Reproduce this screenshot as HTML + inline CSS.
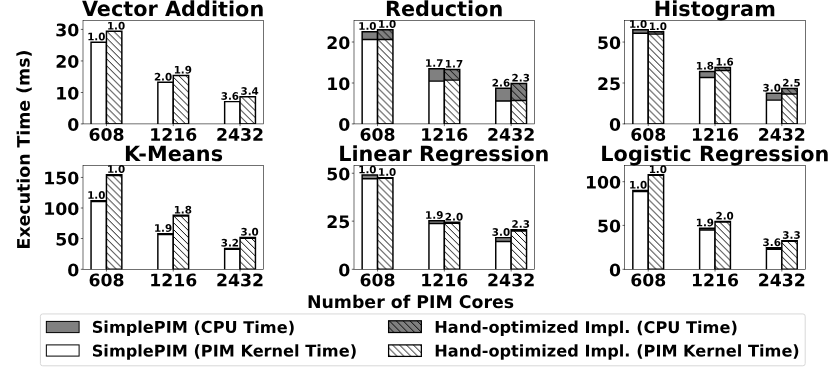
<!DOCTYPE html>
<html><head><meta charset="utf-8"><title>SimplePIM strong scaling</title>
<style>html,body{margin:0;padding:0;background:#fff}svg{display:block}</style></head>
<body>
<svg width="830" height="374" viewBox="0 0 830 374">
<defs>
<pattern id="hw" patternUnits="userSpaceOnUse" width="6.92" height="6.92" x="0" y="0.7"><path d="M-6.92,-6.92 L13.84,13.84 M-6.92,0 L6.92,13.84 M0,-6.92 L13.84,6.92" stroke="#000" stroke-width="0.96" fill="none"/></pattern>
</defs>
<rect width="830" height="374" fill="#fff"/>
<g>
<rect x="91.05" y="42.20" width="15.4" height="81.70" fill="#fff"/>
<path d="M91.05,123.90 L91.05,42.20 L106.45,42.20 L106.45,123.90" fill="none" stroke="#000" stroke-width="1.45" stroke-linejoin="miter"/>
<rect x="106.45" y="31.30" width="15.4" height="92.60" fill="#fff"/>
<rect x="106.45" y="31.30" width="15.4" height="92.60" fill="url(#hw)"/>
<path d="M106.45,123.90 L106.45,31.30 L121.85,31.30 L121.85,123.90" fill="none" stroke="#000" stroke-width="1.45" stroke-linejoin="miter"/>
<line x1="106.45" y1="123.50" x2="121.85" y2="123.50" stroke="#000" stroke-width="0.8"/>
<text x="96.30" y="40.30" transform="rotate(0.03 96.30 40.30)" font-family="DejaVu Sans, Liberation Sans, sans-serif" font-weight="bold" text-rendering="geometricPrecision" font-size="10.35" text-anchor="middle">1.0</text>
<text x="116.05" y="29.40" transform="rotate(0.03 116.05 29.40)" font-family="DejaVu Sans, Liberation Sans, sans-serif" font-weight="bold" text-rendering="geometricPrecision" font-size="10.35" text-anchor="middle">1.0</text>
<line x1="106.45" y1="123.90" x2="106.45" y2="126.10" stroke="#000" stroke-width="0.6"/>
<text x="106.45" y="140.80" transform="rotate(0.03 106.45 140.80)" font-family="DejaVu Sans, Liberation Sans, sans-serif" font-weight="bold" text-rendering="geometricPrecision" font-size="17.3" text-anchor="middle">608</text>
<rect x="157.85" y="82.30" width="15.4" height="41.60" fill="#fff"/>
<path d="M157.85,123.90 L157.85,82.30 L173.25,82.30 L173.25,123.90" fill="none" stroke="#000" stroke-width="1.45" stroke-linejoin="miter"/>
<rect x="173.25" y="75.50" width="15.4" height="48.40" fill="#fff"/>
<rect x="173.25" y="75.50" width="15.4" height="48.40" fill="url(#hw)"/>
<path d="M173.25,123.90 L173.25,75.50 L188.65,75.50 L188.65,123.90" fill="none" stroke="#000" stroke-width="1.45" stroke-linejoin="miter"/>
<line x1="173.25" y1="123.50" x2="188.65" y2="123.50" stroke="#000" stroke-width="0.8"/>
<text x="163.10" y="80.40" transform="rotate(0.03 163.10 80.40)" font-family="DejaVu Sans, Liberation Sans, sans-serif" font-weight="bold" text-rendering="geometricPrecision" font-size="10.35" text-anchor="middle">2.0</text>
<text x="182.85" y="73.60" transform="rotate(0.03 182.85 73.60)" font-family="DejaVu Sans, Liberation Sans, sans-serif" font-weight="bold" text-rendering="geometricPrecision" font-size="10.35" text-anchor="middle">1.9</text>
<line x1="173.25" y1="123.90" x2="173.25" y2="126.10" stroke="#000" stroke-width="0.6"/>
<text x="173.25" y="140.80" transform="rotate(0.03 173.25 140.80)" font-family="DejaVu Sans, Liberation Sans, sans-serif" font-weight="bold" text-rendering="geometricPrecision" font-size="17.3" text-anchor="middle">1216</text>
<rect x="224.65" y="101.60" width="15.4" height="22.30" fill="#fff"/>
<path d="M224.65,123.90 L224.65,101.60 L240.05,101.60 L240.05,123.90" fill="none" stroke="#000" stroke-width="1.45" stroke-linejoin="miter"/>
<rect x="240.05" y="96.70" width="15.4" height="27.20" fill="#fff"/>
<rect x="240.05" y="96.70" width="15.4" height="27.20" fill="url(#hw)"/>
<path d="M240.05,123.90 L240.05,96.70 L255.45,96.70 L255.45,123.90" fill="none" stroke="#000" stroke-width="1.45" stroke-linejoin="miter"/>
<line x1="240.05" y1="123.50" x2="255.45" y2="123.50" stroke="#000" stroke-width="0.8"/>
<text x="229.90" y="99.70" transform="rotate(0.03 229.90 99.70)" font-family="DejaVu Sans, Liberation Sans, sans-serif" font-weight="bold" text-rendering="geometricPrecision" font-size="10.35" text-anchor="middle">3.6</text>
<text x="249.65" y="94.80" transform="rotate(0.03 249.65 94.80)" font-family="DejaVu Sans, Liberation Sans, sans-serif" font-weight="bold" text-rendering="geometricPrecision" font-size="10.35" text-anchor="middle">3.4</text>
<line x1="240.05" y1="123.90" x2="240.05" y2="126.10" stroke="#000" stroke-width="0.6"/>
<text x="240.05" y="140.80" transform="rotate(0.03 240.05 140.80)" font-family="DejaVu Sans, Liberation Sans, sans-serif" font-weight="bold" text-rendering="geometricPrecision" font-size="17.3" text-anchor="middle">2432</text>
<rect x="83.00" y="20.50" width="180.50" height="103.40" fill="none" stroke="#000" stroke-width="0.56"/>
<line x1="80.80" y1="123.90" x2="83.00" y2="123.90" stroke="#000" stroke-width="0.6"/>
<text x="79.30" y="130.80" transform="rotate(0.03 79.30 130.80)" font-family="DejaVu Sans, Liberation Sans, sans-serif" font-weight="bold" text-rendering="geometricPrecision" font-size="17.3" text-anchor="end">0</text>
<line x1="80.80" y1="92.50" x2="83.00" y2="92.50" stroke="#000" stroke-width="0.6"/>
<text x="79.30" y="99.40" transform="rotate(0.03 79.30 99.40)" font-family="DejaVu Sans, Liberation Sans, sans-serif" font-weight="bold" text-rendering="geometricPrecision" font-size="17.3" text-anchor="end">10</text>
<line x1="80.80" y1="60.95" x2="83.00" y2="60.95" stroke="#000" stroke-width="0.6"/>
<text x="79.30" y="67.85" transform="rotate(0.03 79.30 67.85)" font-family="DejaVu Sans, Liberation Sans, sans-serif" font-weight="bold" text-rendering="geometricPrecision" font-size="17.3" text-anchor="end">20</text>
<line x1="80.80" y1="29.40" x2="83.00" y2="29.40" stroke="#000" stroke-width="0.6"/>
<text x="79.30" y="36.30" transform="rotate(0.03 79.30 36.30)" font-family="DejaVu Sans, Liberation Sans, sans-serif" font-weight="bold" text-rendering="geometricPrecision" font-size="17.3" text-anchor="end">30</text>
<text x="173.05" y="16.10" transform="rotate(0.03 173.05 16.10)" font-family="DejaVu Sans, Liberation Sans, sans-serif" font-weight="bold" text-rendering="geometricPrecision" font-size="20.8" text-anchor="middle">Vector Addition</text>
</g>
<g>
<rect x="362.15" y="39.40" width="15.4" height="84.50" fill="#fff"/>
<rect x="362.15" y="31.65" width="15.4" height="7.75" fill="#808080"/>
<path d="M362.15,123.90 L362.15,31.65 L377.55,31.65 L377.55,123.90 M362.15,39.40 L377.55,39.40" fill="none" stroke="#000" stroke-width="1.45" stroke-linejoin="miter"/>
<rect x="377.55" y="39.40" width="15.4" height="84.50" fill="#fff"/>
<rect x="377.55" y="29.65" width="15.4" height="9.75" fill="#808080"/>
<rect x="377.55" y="29.65" width="15.4" height="94.25" fill="url(#hw)"/>
<path d="M377.55,123.90 L377.55,29.65 L392.95,29.65 L392.95,123.90 M377.55,39.40 L392.95,39.40" fill="none" stroke="#000" stroke-width="1.45" stroke-linejoin="miter"/>
<line x1="377.55" y1="123.50" x2="392.95" y2="123.50" stroke="#000" stroke-width="0.8"/>
<text x="367.40" y="29.75" transform="rotate(0.03 367.40 29.75)" font-family="DejaVu Sans, Liberation Sans, sans-serif" font-weight="bold" text-rendering="geometricPrecision" font-size="10.35" text-anchor="middle">1.0</text>
<text x="387.15" y="27.75" transform="rotate(0.03 387.15 27.75)" font-family="DejaVu Sans, Liberation Sans, sans-serif" font-weight="bold" text-rendering="geometricPrecision" font-size="10.35" text-anchor="middle">1.0</text>
<line x1="377.55" y1="123.90" x2="377.55" y2="126.10" stroke="#000" stroke-width="0.6"/>
<text x="377.55" y="140.80" transform="rotate(0.03 377.55 140.80)" font-family="DejaVu Sans, Liberation Sans, sans-serif" font-weight="bold" text-rendering="geometricPrecision" font-size="17.3" text-anchor="middle">608</text>
<rect x="428.95" y="81.10" width="15.4" height="42.80" fill="#fff"/>
<rect x="428.95" y="68.70" width="15.4" height="12.40" fill="#808080"/>
<path d="M428.95,123.90 L428.95,68.70 L444.35,68.70 L444.35,123.90 M428.95,81.10 L444.35,81.10" fill="none" stroke="#000" stroke-width="1.45" stroke-linejoin="miter"/>
<rect x="444.35" y="80.10" width="15.4" height="43.80" fill="#fff"/>
<rect x="444.35" y="69.50" width="15.4" height="10.60" fill="#808080"/>
<rect x="444.35" y="69.50" width="15.4" height="54.40" fill="url(#hw)"/>
<path d="M444.35,123.90 L444.35,69.50 L459.75,69.50 L459.75,123.90 M444.35,80.10 L459.75,80.10" fill="none" stroke="#000" stroke-width="1.45" stroke-linejoin="miter"/>
<line x1="444.35" y1="123.50" x2="459.75" y2="123.50" stroke="#000" stroke-width="0.8"/>
<text x="434.20" y="66.80" transform="rotate(0.03 434.20 66.80)" font-family="DejaVu Sans, Liberation Sans, sans-serif" font-weight="bold" text-rendering="geometricPrecision" font-size="10.35" text-anchor="middle">1.7</text>
<text x="453.95" y="67.60" transform="rotate(0.03 453.95 67.60)" font-family="DejaVu Sans, Liberation Sans, sans-serif" font-weight="bold" text-rendering="geometricPrecision" font-size="10.35" text-anchor="middle">1.7</text>
<line x1="444.35" y1="123.90" x2="444.35" y2="126.10" stroke="#000" stroke-width="0.6"/>
<text x="444.35" y="140.80" transform="rotate(0.03 444.35 140.80)" font-family="DejaVu Sans, Liberation Sans, sans-serif" font-weight="bold" text-rendering="geometricPrecision" font-size="17.3" text-anchor="middle">1216</text>
<rect x="495.75" y="101.00" width="15.4" height="22.90" fill="#fff"/>
<rect x="495.75" y="88.30" width="15.4" height="12.70" fill="#808080"/>
<path d="M495.75,123.90 L495.75,88.30 L511.15,88.30 L511.15,123.90 M495.75,101.00 L511.15,101.00" fill="none" stroke="#000" stroke-width="1.45" stroke-linejoin="miter"/>
<rect x="511.15" y="100.40" width="15.4" height="23.50" fill="#fff"/>
<rect x="511.15" y="83.50" width="15.4" height="16.90" fill="#808080"/>
<rect x="511.15" y="83.50" width="15.4" height="40.40" fill="url(#hw)"/>
<path d="M511.15,123.90 L511.15,83.50 L526.55,83.50 L526.55,123.90 M511.15,100.40 L526.55,100.40" fill="none" stroke="#000" stroke-width="1.45" stroke-linejoin="miter"/>
<line x1="511.15" y1="123.50" x2="526.55" y2="123.50" stroke="#000" stroke-width="0.8"/>
<text x="501.00" y="86.40" transform="rotate(0.03 501.00 86.40)" font-family="DejaVu Sans, Liberation Sans, sans-serif" font-weight="bold" text-rendering="geometricPrecision" font-size="10.35" text-anchor="middle">2.6</text>
<text x="520.75" y="81.60" transform="rotate(0.03 520.75 81.60)" font-family="DejaVu Sans, Liberation Sans, sans-serif" font-weight="bold" text-rendering="geometricPrecision" font-size="10.35" text-anchor="middle">2.3</text>
<line x1="511.15" y1="123.90" x2="511.15" y2="126.10" stroke="#000" stroke-width="0.6"/>
<text x="511.15" y="140.80" transform="rotate(0.03 511.15 140.80)" font-family="DejaVu Sans, Liberation Sans, sans-serif" font-weight="bold" text-rendering="geometricPrecision" font-size="17.3" text-anchor="middle">2432</text>
<rect x="354.00" y="20.50" width="180.70" height="103.40" fill="none" stroke="#000" stroke-width="0.56"/>
<line x1="351.80" y1="123.90" x2="354.00" y2="123.90" stroke="#000" stroke-width="0.6"/>
<text x="350.30" y="130.80" transform="rotate(0.03 350.30 130.80)" font-family="DejaVu Sans, Liberation Sans, sans-serif" font-weight="bold" text-rendering="geometricPrecision" font-size="17.3" text-anchor="end">0</text>
<line x1="351.80" y1="83.00" x2="354.00" y2="83.00" stroke="#000" stroke-width="0.6"/>
<text x="350.30" y="89.90" transform="rotate(0.03 350.30 89.90)" font-family="DejaVu Sans, Liberation Sans, sans-serif" font-weight="bold" text-rendering="geometricPrecision" font-size="17.3" text-anchor="end">10</text>
<line x1="351.80" y1="42.00" x2="354.00" y2="42.00" stroke="#000" stroke-width="0.6"/>
<text x="350.30" y="48.90" transform="rotate(0.03 350.30 48.90)" font-family="DejaVu Sans, Liberation Sans, sans-serif" font-weight="bold" text-rendering="geometricPrecision" font-size="17.3" text-anchor="end">20</text>
<text x="444.15" y="16.10" transform="rotate(0.03 444.15 16.10)" font-family="DejaVu Sans, Liberation Sans, sans-serif" font-weight="bold" text-rendering="geometricPrecision" font-size="20.8" text-anchor="middle">Reduction</text>
</g>
<g>
<rect x="632.83" y="33.30" width="15.4" height="90.60" fill="#fff"/>
<rect x="632.83" y="29.70" width="15.4" height="3.60" fill="#808080"/>
<path d="M632.83,123.90 L632.83,29.70 L648.23,29.70 L648.23,123.90 M632.83,33.30 L648.23,33.30" fill="none" stroke="#000" stroke-width="1.45" stroke-linejoin="miter"/>
<rect x="648.23" y="34.10" width="15.4" height="89.80" fill="#fff"/>
<rect x="648.23" y="31.80" width="15.4" height="2.30" fill="#808080"/>
<rect x="648.23" y="31.80" width="15.4" height="92.10" fill="url(#hw)"/>
<path d="M648.23,123.90 L648.23,31.80 L663.63,31.80 L663.63,123.90 M648.23,34.10 L663.63,34.10" fill="none" stroke="#000" stroke-width="1.45" stroke-linejoin="miter"/>
<line x1="648.23" y1="123.50" x2="663.63" y2="123.50" stroke="#000" stroke-width="0.8"/>
<text x="638.08" y="27.80" transform="rotate(0.03 638.08 27.80)" font-family="DejaVu Sans, Liberation Sans, sans-serif" font-weight="bold" text-rendering="geometricPrecision" font-size="10.35" text-anchor="middle">1.0</text>
<text x="657.83" y="29.90" transform="rotate(0.03 657.83 29.90)" font-family="DejaVu Sans, Liberation Sans, sans-serif" font-weight="bold" text-rendering="geometricPrecision" font-size="10.35" text-anchor="middle">1.0</text>
<line x1="648.23" y1="123.90" x2="648.23" y2="126.10" stroke="#000" stroke-width="0.6"/>
<text x="648.23" y="140.80" transform="rotate(0.03 648.23 140.80)" font-family="DejaVu Sans, Liberation Sans, sans-serif" font-weight="bold" text-rendering="geometricPrecision" font-size="17.3" text-anchor="middle">608</text>
<rect x="699.63" y="77.50" width="15.4" height="46.40" fill="#fff"/>
<rect x="699.63" y="71.45" width="15.4" height="6.05" fill="#808080"/>
<path d="M699.63,123.90 L699.63,71.45 L715.03,71.45 L715.03,123.90 M699.63,77.50 L715.03,77.50" fill="none" stroke="#000" stroke-width="1.45" stroke-linejoin="miter"/>
<rect x="715.03" y="70.50" width="15.4" height="53.40" fill="#fff"/>
<rect x="715.03" y="67.50" width="15.4" height="3.00" fill="#808080"/>
<rect x="715.03" y="67.50" width="15.4" height="56.40" fill="url(#hw)"/>
<path d="M715.03,123.90 L715.03,67.50 L730.43,67.50 L730.43,123.90 M715.03,70.50 L730.43,70.50" fill="none" stroke="#000" stroke-width="1.45" stroke-linejoin="miter"/>
<line x1="715.03" y1="123.50" x2="730.43" y2="123.50" stroke="#000" stroke-width="0.8"/>
<text x="704.88" y="69.55" transform="rotate(0.03 704.88 69.55)" font-family="DejaVu Sans, Liberation Sans, sans-serif" font-weight="bold" text-rendering="geometricPrecision" font-size="10.35" text-anchor="middle">1.8</text>
<text x="724.63" y="65.60" transform="rotate(0.03 724.63 65.60)" font-family="DejaVu Sans, Liberation Sans, sans-serif" font-weight="bold" text-rendering="geometricPrecision" font-size="10.35" text-anchor="middle">1.6</text>
<line x1="715.03" y1="123.90" x2="715.03" y2="126.10" stroke="#000" stroke-width="0.6"/>
<text x="715.03" y="140.80" transform="rotate(0.03 715.03 140.80)" font-family="DejaVu Sans, Liberation Sans, sans-serif" font-weight="bold" text-rendering="geometricPrecision" font-size="17.3" text-anchor="middle">1216</text>
<rect x="766.43" y="100.10" width="15.4" height="23.80" fill="#fff"/>
<rect x="766.43" y="93.30" width="15.4" height="6.80" fill="#808080"/>
<path d="M766.43,123.90 L766.43,93.30 L781.83,93.30 L781.83,123.90 M766.43,100.10 L781.83,100.10" fill="none" stroke="#000" stroke-width="1.45" stroke-linejoin="miter"/>
<rect x="781.83" y="94.00" width="15.4" height="29.90" fill="#fff"/>
<rect x="781.83" y="88.50" width="15.4" height="5.50" fill="#808080"/>
<rect x="781.83" y="88.50" width="15.4" height="35.40" fill="url(#hw)"/>
<path d="M781.83,123.90 L781.83,88.50 L797.23,88.50 L797.23,123.90 M781.83,94.00 L797.23,94.00" fill="none" stroke="#000" stroke-width="1.45" stroke-linejoin="miter"/>
<line x1="781.83" y1="123.50" x2="797.23" y2="123.50" stroke="#000" stroke-width="0.8"/>
<text x="771.68" y="91.40" transform="rotate(0.03 771.68 91.40)" font-family="DejaVu Sans, Liberation Sans, sans-serif" font-weight="bold" text-rendering="geometricPrecision" font-size="10.35" text-anchor="middle">3.0</text>
<text x="791.43" y="86.60" transform="rotate(0.03 791.43 86.60)" font-family="DejaVu Sans, Liberation Sans, sans-serif" font-weight="bold" text-rendering="geometricPrecision" font-size="10.35" text-anchor="middle">2.5</text>
<line x1="781.83" y1="123.90" x2="781.83" y2="126.10" stroke="#000" stroke-width="0.6"/>
<text x="781.83" y="140.80" transform="rotate(0.03 781.83 140.80)" font-family="DejaVu Sans, Liberation Sans, sans-serif" font-weight="bold" text-rendering="geometricPrecision" font-size="17.3" text-anchor="middle">2432</text>
<rect x="624.70" y="20.50" width="180.65" height="103.40" fill="none" stroke="#000" stroke-width="0.56"/>
<line x1="622.50" y1="123.90" x2="624.70" y2="123.90" stroke="#000" stroke-width="0.6"/>
<text x="621.00" y="130.80" transform="rotate(0.03 621.00 130.80)" font-family="DejaVu Sans, Liberation Sans, sans-serif" font-weight="bold" text-rendering="geometricPrecision" font-size="17.3" text-anchor="end">0</text>
<line x1="622.50" y1="83.00" x2="624.70" y2="83.00" stroke="#000" stroke-width="0.6"/>
<text x="621.00" y="89.90" transform="rotate(0.03 621.00 89.90)" font-family="DejaVu Sans, Liberation Sans, sans-serif" font-weight="bold" text-rendering="geometricPrecision" font-size="17.3" text-anchor="end">25</text>
<line x1="622.50" y1="42.05" x2="624.70" y2="42.05" stroke="#000" stroke-width="0.6"/>
<text x="621.00" y="48.95" transform="rotate(0.03 621.00 48.95)" font-family="DejaVu Sans, Liberation Sans, sans-serif" font-weight="bold" text-rendering="geometricPrecision" font-size="17.3" text-anchor="end">50</text>
<text x="714.83" y="16.10" transform="rotate(0.03 714.83 16.10)" font-family="DejaVu Sans, Liberation Sans, sans-serif" font-weight="bold" text-rendering="geometricPrecision" font-size="20.8" text-anchor="middle">Histogram</text>
</g>
<g>
<rect x="91.05" y="201.50" width="15.4" height="67.80" fill="#fff"/>
<rect x="91.05" y="200.60" width="15.4" height="0.90" fill="#808080"/>
<path d="M91.05,269.30 L91.05,200.60 L106.45,200.60 L106.45,269.30 M91.05,201.50 L106.45,201.50" fill="none" stroke="#000" stroke-width="1.45" stroke-linejoin="miter"/>
<rect x="106.45" y="175.40" width="15.4" height="93.90" fill="#fff"/>
<rect x="106.45" y="174.70" width="15.4" height="0.70" fill="#808080"/>
<rect x="106.45" y="174.70" width="15.4" height="94.60" fill="url(#hw)"/>
<path d="M106.45,269.30 L106.45,174.70 L121.85,174.70 L121.85,269.30 M106.45,175.40 L121.85,175.40" fill="none" stroke="#000" stroke-width="1.45" stroke-linejoin="miter"/>
<line x1="106.45" y1="268.90" x2="121.85" y2="268.90" stroke="#000" stroke-width="0.8"/>
<text x="96.30" y="198.70" transform="rotate(0.03 96.30 198.70)" font-family="DejaVu Sans, Liberation Sans, sans-serif" font-weight="bold" text-rendering="geometricPrecision" font-size="10.35" text-anchor="middle">1.0</text>
<text x="116.05" y="172.80" transform="rotate(0.03 116.05 172.80)" font-family="DejaVu Sans, Liberation Sans, sans-serif" font-weight="bold" text-rendering="geometricPrecision" font-size="10.35" text-anchor="middle">1.0</text>
<line x1="106.45" y1="269.30" x2="106.45" y2="271.50" stroke="#000" stroke-width="0.6"/>
<text x="106.45" y="286.20" transform="rotate(0.03 106.45 286.20)" font-family="DejaVu Sans, Liberation Sans, sans-serif" font-weight="bold" text-rendering="geometricPrecision" font-size="17.3" text-anchor="middle">608</text>
<rect x="157.85" y="234.50" width="15.4" height="34.80" fill="#fff"/>
<rect x="157.85" y="233.60" width="15.4" height="0.90" fill="#808080"/>
<path d="M157.85,269.30 L157.85,233.60 L173.25,233.60 L173.25,269.30 M157.85,234.50 L173.25,234.50" fill="none" stroke="#000" stroke-width="1.45" stroke-linejoin="miter"/>
<rect x="173.25" y="216.00" width="15.4" height="53.30" fill="#fff"/>
<rect x="173.25" y="215.30" width="15.4" height="0.70" fill="#808080"/>
<rect x="173.25" y="215.30" width="15.4" height="54.00" fill="url(#hw)"/>
<path d="M173.25,269.30 L173.25,215.30 L188.65,215.30 L188.65,269.30 M173.25,216.00 L188.65,216.00" fill="none" stroke="#000" stroke-width="1.45" stroke-linejoin="miter"/>
<line x1="173.25" y1="268.90" x2="188.65" y2="268.90" stroke="#000" stroke-width="0.8"/>
<text x="163.10" y="231.70" transform="rotate(0.03 163.10 231.70)" font-family="DejaVu Sans, Liberation Sans, sans-serif" font-weight="bold" text-rendering="geometricPrecision" font-size="10.35" text-anchor="middle">1.9</text>
<text x="182.85" y="213.40" transform="rotate(0.03 182.85 213.40)" font-family="DejaVu Sans, Liberation Sans, sans-serif" font-weight="bold" text-rendering="geometricPrecision" font-size="10.35" text-anchor="middle">1.8</text>
<line x1="173.25" y1="269.30" x2="173.25" y2="271.50" stroke="#000" stroke-width="0.6"/>
<text x="173.25" y="286.20" transform="rotate(0.03 173.25 286.20)" font-family="DejaVu Sans, Liberation Sans, sans-serif" font-weight="bold" text-rendering="geometricPrecision" font-size="17.3" text-anchor="middle">1216</text>
<rect x="224.65" y="249.30" width="15.4" height="20.00" fill="#fff"/>
<rect x="224.65" y="248.40" width="15.4" height="0.90" fill="#808080"/>
<path d="M224.65,269.30 L224.65,248.40 L240.05,248.40 L240.05,269.30 M224.65,249.30 L240.05,249.30" fill="none" stroke="#000" stroke-width="1.45" stroke-linejoin="miter"/>
<rect x="240.05" y="238.20" width="15.4" height="31.10" fill="#fff"/>
<rect x="240.05" y="237.50" width="15.4" height="0.70" fill="#808080"/>
<rect x="240.05" y="237.50" width="15.4" height="31.80" fill="url(#hw)"/>
<path d="M240.05,269.30 L240.05,237.50 L255.45,237.50 L255.45,269.30 M240.05,238.20 L255.45,238.20" fill="none" stroke="#000" stroke-width="1.45" stroke-linejoin="miter"/>
<line x1="240.05" y1="268.90" x2="255.45" y2="268.90" stroke="#000" stroke-width="0.8"/>
<text x="229.90" y="246.50" transform="rotate(0.03 229.90 246.50)" font-family="DejaVu Sans, Liberation Sans, sans-serif" font-weight="bold" text-rendering="geometricPrecision" font-size="10.35" text-anchor="middle">3.2</text>
<text x="249.65" y="235.60" transform="rotate(0.03 249.65 235.60)" font-family="DejaVu Sans, Liberation Sans, sans-serif" font-weight="bold" text-rendering="geometricPrecision" font-size="10.35" text-anchor="middle">3.0</text>
<line x1="240.05" y1="269.30" x2="240.05" y2="271.50" stroke="#000" stroke-width="0.6"/>
<text x="240.05" y="286.20" transform="rotate(0.03 240.05 286.20)" font-family="DejaVu Sans, Liberation Sans, sans-serif" font-weight="bold" text-rendering="geometricPrecision" font-size="17.3" text-anchor="middle">2432</text>
<rect x="83.00" y="165.50" width="180.50" height="103.80" fill="none" stroke="#000" stroke-width="0.56"/>
<line x1="80.80" y1="269.30" x2="83.00" y2="269.30" stroke="#000" stroke-width="0.6"/>
<text x="79.30" y="276.20" transform="rotate(0.03 79.30 276.20)" font-family="DejaVu Sans, Liberation Sans, sans-serif" font-weight="bold" text-rendering="geometricPrecision" font-size="17.3" text-anchor="end">0</text>
<line x1="80.80" y1="238.50" x2="83.00" y2="238.50" stroke="#000" stroke-width="0.6"/>
<text x="79.30" y="245.40" transform="rotate(0.03 79.30 245.40)" font-family="DejaVu Sans, Liberation Sans, sans-serif" font-weight="bold" text-rendering="geometricPrecision" font-size="17.3" text-anchor="end">50</text>
<line x1="80.80" y1="208.00" x2="83.00" y2="208.00" stroke="#000" stroke-width="0.6"/>
<text x="79.30" y="214.90" transform="rotate(0.03 79.30 214.90)" font-family="DejaVu Sans, Liberation Sans, sans-serif" font-weight="bold" text-rendering="geometricPrecision" font-size="17.3" text-anchor="end">100</text>
<line x1="80.80" y1="177.45" x2="83.00" y2="177.45" stroke="#000" stroke-width="0.6"/>
<text x="79.30" y="184.35" transform="rotate(0.03 79.30 184.35)" font-family="DejaVu Sans, Liberation Sans, sans-serif" font-weight="bold" text-rendering="geometricPrecision" font-size="17.3" text-anchor="end">150</text>
<text x="173.55" y="161.10" transform="rotate(0.03 173.55 161.10)" font-family="DejaVu Sans, Liberation Sans, sans-serif" font-weight="bold" text-rendering="geometricPrecision" font-size="20.8" text-anchor="middle">K-Means</text>
</g>
<g>
<rect x="362.15" y="178.65" width="15.4" height="90.65" fill="#fff"/>
<rect x="362.15" y="175.05" width="15.4" height="3.60" fill="#808080"/>
<path d="M362.15,269.30 L362.15,175.05 L377.55,175.05 L377.55,269.30 M362.15,178.65 L377.55,178.65" fill="none" stroke="#000" stroke-width="1.45" stroke-linejoin="miter"/>
<rect x="377.55" y="178.20" width="15.4" height="91.10" fill="#fff"/>
<rect x="377.55" y="177.60" width="15.4" height="0.60" fill="#808080"/>
<rect x="377.55" y="177.60" width="15.4" height="91.70" fill="url(#hw)"/>
<path d="M377.55,269.30 L377.55,177.60 L392.95,177.60 L392.95,269.30 M377.55,178.20 L392.95,178.20" fill="none" stroke="#000" stroke-width="1.45" stroke-linejoin="miter"/>
<line x1="377.55" y1="268.90" x2="392.95" y2="268.90" stroke="#000" stroke-width="0.8"/>
<text x="367.40" y="173.15" transform="rotate(0.03 367.40 173.15)" font-family="DejaVu Sans, Liberation Sans, sans-serif" font-weight="bold" text-rendering="geometricPrecision" font-size="10.35" text-anchor="middle">1.0</text>
<text x="387.15" y="175.70" transform="rotate(0.03 387.15 175.70)" font-family="DejaVu Sans, Liberation Sans, sans-serif" font-weight="bold" text-rendering="geometricPrecision" font-size="10.35" text-anchor="middle">1.0</text>
<line x1="377.55" y1="269.30" x2="377.55" y2="271.50" stroke="#000" stroke-width="0.6"/>
<text x="377.55" y="286.20" transform="rotate(0.03 377.55 286.20)" font-family="DejaVu Sans, Liberation Sans, sans-serif" font-weight="bold" text-rendering="geometricPrecision" font-size="17.3" text-anchor="middle">608</text>
<rect x="428.95" y="223.50" width="15.4" height="45.80" fill="#fff"/>
<rect x="428.95" y="220.70" width="15.4" height="2.80" fill="#808080"/>
<path d="M428.95,269.30 L428.95,220.70 L444.35,220.70 L444.35,269.30 M428.95,223.50 L444.35,223.50" fill="none" stroke="#000" stroke-width="1.45" stroke-linejoin="miter"/>
<rect x="444.35" y="223.20" width="15.4" height="46.10" fill="#fff"/>
<rect x="444.35" y="222.30" width="15.4" height="0.90" fill="#808080"/>
<rect x="444.35" y="222.30" width="15.4" height="47.00" fill="url(#hw)"/>
<path d="M444.35,269.30 L444.35,222.30 L459.75,222.30 L459.75,269.30 M444.35,223.20 L459.75,223.20" fill="none" stroke="#000" stroke-width="1.45" stroke-linejoin="miter"/>
<line x1="444.35" y1="268.90" x2="459.75" y2="268.90" stroke="#000" stroke-width="0.8"/>
<text x="434.20" y="218.80" transform="rotate(0.03 434.20 218.80)" font-family="DejaVu Sans, Liberation Sans, sans-serif" font-weight="bold" text-rendering="geometricPrecision" font-size="10.35" text-anchor="middle">1.9</text>
<text x="453.95" y="220.40" transform="rotate(0.03 453.95 220.40)" font-family="DejaVu Sans, Liberation Sans, sans-serif" font-weight="bold" text-rendering="geometricPrecision" font-size="10.35" text-anchor="middle">2.0</text>
<line x1="444.35" y1="269.30" x2="444.35" y2="271.50" stroke="#000" stroke-width="0.6"/>
<text x="444.35" y="286.20" transform="rotate(0.03 444.35 286.20)" font-family="DejaVu Sans, Liberation Sans, sans-serif" font-weight="bold" text-rendering="geometricPrecision" font-size="17.3" text-anchor="middle">1216</text>
<rect x="495.75" y="241.50" width="15.4" height="27.80" fill="#fff"/>
<rect x="495.75" y="237.60" width="15.4" height="3.90" fill="#808080"/>
<path d="M495.75,269.30 L495.75,237.60 L511.15,237.60 L511.15,269.30 M495.75,241.50 L511.15,241.50" fill="none" stroke="#000" stroke-width="1.45" stroke-linejoin="miter"/>
<rect x="511.15" y="231.00" width="15.4" height="38.30" fill="#fff"/>
<rect x="511.15" y="229.75" width="15.4" height="1.25" fill="#808080"/>
<rect x="511.15" y="229.75" width="15.4" height="39.55" fill="url(#hw)"/>
<path d="M511.15,269.30 L511.15,229.75 L526.55,229.75 L526.55,269.30 M511.15,231.00 L526.55,231.00" fill="none" stroke="#000" stroke-width="1.45" stroke-linejoin="miter"/>
<line x1="511.15" y1="268.90" x2="526.55" y2="268.90" stroke="#000" stroke-width="0.8"/>
<text x="501.00" y="235.70" transform="rotate(0.03 501.00 235.70)" font-family="DejaVu Sans, Liberation Sans, sans-serif" font-weight="bold" text-rendering="geometricPrecision" font-size="10.35" text-anchor="middle">3.0</text>
<text x="520.75" y="227.85" transform="rotate(0.03 520.75 227.85)" font-family="DejaVu Sans, Liberation Sans, sans-serif" font-weight="bold" text-rendering="geometricPrecision" font-size="10.35" text-anchor="middle">2.3</text>
<line x1="511.15" y1="269.30" x2="511.15" y2="271.50" stroke="#000" stroke-width="0.6"/>
<text x="511.15" y="286.20" transform="rotate(0.03 511.15 286.20)" font-family="DejaVu Sans, Liberation Sans, sans-serif" font-weight="bold" text-rendering="geometricPrecision" font-size="17.3" text-anchor="middle">2432</text>
<rect x="354.00" y="165.50" width="180.70" height="103.80" fill="none" stroke="#000" stroke-width="0.56"/>
<line x1="351.80" y1="269.30" x2="354.00" y2="269.30" stroke="#000" stroke-width="0.6"/>
<text x="350.30" y="276.20" transform="rotate(0.03 350.30 276.20)" font-family="DejaVu Sans, Liberation Sans, sans-serif" font-weight="bold" text-rendering="geometricPrecision" font-size="17.3" text-anchor="end">0</text>
<line x1="351.80" y1="221.15" x2="354.00" y2="221.15" stroke="#000" stroke-width="0.6"/>
<text x="350.30" y="228.05" transform="rotate(0.03 350.30 228.05)" font-family="DejaVu Sans, Liberation Sans, sans-serif" font-weight="bold" text-rendering="geometricPrecision" font-size="17.3" text-anchor="end">25</text>
<line x1="351.80" y1="173.25" x2="354.00" y2="173.25" stroke="#000" stroke-width="0.6"/>
<text x="350.30" y="180.15" transform="rotate(0.03 350.30 180.15)" font-family="DejaVu Sans, Liberation Sans, sans-serif" font-weight="bold" text-rendering="geometricPrecision" font-size="17.3" text-anchor="end">50</text>
<text x="443.75" y="161.10" transform="rotate(0.03 443.75 161.10)" font-family="DejaVu Sans, Liberation Sans, sans-serif" font-weight="bold" text-rendering="geometricPrecision" font-size="20.8" text-anchor="middle">Linear Regression</text>
</g>
<g>
<rect x="632.83" y="191.50" width="15.4" height="77.80" fill="#fff"/>
<rect x="632.83" y="190.50" width="15.4" height="1.00" fill="#808080"/>
<path d="M632.83,269.30 L632.83,190.50 L648.23,190.50 L648.23,269.30 M632.83,191.50 L648.23,191.50" fill="none" stroke="#000" stroke-width="1.45" stroke-linejoin="miter"/>
<rect x="648.23" y="175.30" width="15.4" height="94.00" fill="#fff"/>
<rect x="648.23" y="174.80" width="15.4" height="0.50" fill="#808080"/>
<rect x="648.23" y="174.80" width="15.4" height="94.50" fill="url(#hw)"/>
<path d="M648.23,269.30 L648.23,174.80 L663.63,174.80 L663.63,269.30 M648.23,175.30 L663.63,175.30" fill="none" stroke="#000" stroke-width="1.45" stroke-linejoin="miter"/>
<line x1="648.23" y1="268.90" x2="663.63" y2="268.90" stroke="#000" stroke-width="0.8"/>
<text x="638.08" y="188.60" transform="rotate(0.03 638.08 188.60)" font-family="DejaVu Sans, Liberation Sans, sans-serif" font-weight="bold" text-rendering="geometricPrecision" font-size="10.35" text-anchor="middle">1.0</text>
<text x="657.83" y="172.90" transform="rotate(0.03 657.83 172.90)" font-family="DejaVu Sans, Liberation Sans, sans-serif" font-weight="bold" text-rendering="geometricPrecision" font-size="10.35" text-anchor="middle">1.0</text>
<line x1="648.23" y1="269.30" x2="648.23" y2="271.50" stroke="#000" stroke-width="0.6"/>
<text x="648.23" y="286.20" transform="rotate(0.03 648.23 286.20)" font-family="DejaVu Sans, Liberation Sans, sans-serif" font-weight="bold" text-rendering="geometricPrecision" font-size="17.3" text-anchor="middle">608</text>
<rect x="699.63" y="229.90" width="15.4" height="39.40" fill="#fff"/>
<rect x="699.63" y="228.20" width="15.4" height="1.70" fill="#808080"/>
<path d="M699.63,269.30 L699.63,228.20 L715.03,228.20 L715.03,269.30 M699.63,229.90 L715.03,229.90" fill="none" stroke="#000" stroke-width="1.45" stroke-linejoin="miter"/>
<rect x="715.03" y="222.10" width="15.4" height="47.20" fill="#fff"/>
<rect x="715.03" y="221.40" width="15.4" height="0.70" fill="#808080"/>
<rect x="715.03" y="221.40" width="15.4" height="47.90" fill="url(#hw)"/>
<path d="M715.03,269.30 L715.03,221.40 L730.43,221.40 L730.43,269.30 M715.03,222.10 L730.43,222.10" fill="none" stroke="#000" stroke-width="1.45" stroke-linejoin="miter"/>
<line x1="715.03" y1="268.90" x2="730.43" y2="268.90" stroke="#000" stroke-width="0.8"/>
<text x="704.88" y="226.30" transform="rotate(0.03 704.88 226.30)" font-family="DejaVu Sans, Liberation Sans, sans-serif" font-weight="bold" text-rendering="geometricPrecision" font-size="10.35" text-anchor="middle">1.9</text>
<text x="724.63" y="219.50" transform="rotate(0.03 724.63 219.50)" font-family="DejaVu Sans, Liberation Sans, sans-serif" font-weight="bold" text-rendering="geometricPrecision" font-size="10.35" text-anchor="middle">2.0</text>
<line x1="715.03" y1="269.30" x2="715.03" y2="271.50" stroke="#000" stroke-width="0.6"/>
<text x="715.03" y="286.20" transform="rotate(0.03 715.03 286.20)" font-family="DejaVu Sans, Liberation Sans, sans-serif" font-weight="bold" text-rendering="geometricPrecision" font-size="17.3" text-anchor="middle">1216</text>
<rect x="766.43" y="249.20" width="15.4" height="20.10" fill="#fff"/>
<rect x="766.43" y="247.80" width="15.4" height="1.40" fill="#808080"/>
<path d="M766.43,269.30 L766.43,247.80 L781.83,247.80 L781.83,269.30 M766.43,249.20 L781.83,249.20" fill="none" stroke="#000" stroke-width="1.45" stroke-linejoin="miter"/>
<rect x="781.83" y="241.20" width="15.4" height="28.10" fill="#fff"/>
<rect x="781.83" y="240.60" width="15.4" height="0.60" fill="#808080"/>
<rect x="781.83" y="240.60" width="15.4" height="28.70" fill="url(#hw)"/>
<path d="M781.83,269.30 L781.83,240.60 L797.23,240.60 L797.23,269.30 M781.83,241.20 L797.23,241.20" fill="none" stroke="#000" stroke-width="1.45" stroke-linejoin="miter"/>
<line x1="781.83" y1="268.90" x2="797.23" y2="268.90" stroke="#000" stroke-width="0.8"/>
<text x="771.68" y="245.90" transform="rotate(0.03 771.68 245.90)" font-family="DejaVu Sans, Liberation Sans, sans-serif" font-weight="bold" text-rendering="geometricPrecision" font-size="10.35" text-anchor="middle">3.6</text>
<text x="791.43" y="238.70" transform="rotate(0.03 791.43 238.70)" font-family="DejaVu Sans, Liberation Sans, sans-serif" font-weight="bold" text-rendering="geometricPrecision" font-size="10.35" text-anchor="middle">3.3</text>
<line x1="781.83" y1="269.30" x2="781.83" y2="271.50" stroke="#000" stroke-width="0.6"/>
<text x="781.83" y="286.20" transform="rotate(0.03 781.83 286.20)" font-family="DejaVu Sans, Liberation Sans, sans-serif" font-weight="bold" text-rendering="geometricPrecision" font-size="17.3" text-anchor="middle">2432</text>
<rect x="624.70" y="165.50" width="180.65" height="103.80" fill="none" stroke="#000" stroke-width="0.56"/>
<line x1="622.50" y1="269.30" x2="624.70" y2="269.30" stroke="#000" stroke-width="0.6"/>
<text x="621.00" y="276.20" transform="rotate(0.03 621.00 276.20)" font-family="DejaVu Sans, Liberation Sans, sans-serif" font-weight="bold" text-rendering="geometricPrecision" font-size="17.3" text-anchor="end">0</text>
<line x1="622.50" y1="225.40" x2="624.70" y2="225.40" stroke="#000" stroke-width="0.6"/>
<text x="621.00" y="232.30" transform="rotate(0.03 621.00 232.30)" font-family="DejaVu Sans, Liberation Sans, sans-serif" font-weight="bold" text-rendering="geometricPrecision" font-size="17.3" text-anchor="end">50</text>
<line x1="622.50" y1="181.70" x2="624.70" y2="181.70" stroke="#000" stroke-width="0.6"/>
<text x="621.00" y="188.60" transform="rotate(0.03 621.00 188.60)" font-family="DejaVu Sans, Liberation Sans, sans-serif" font-weight="bold" text-rendering="geometricPrecision" font-size="17.3" text-anchor="end">100</text>
<text x="714.83" y="161.10" transform="rotate(0.03 714.83 161.10)" font-family="DejaVu Sans, Liberation Sans, sans-serif" font-weight="bold" text-rendering="geometricPrecision" font-size="20.8" text-anchor="middle">Logistic Regression</text>
</g>
<text transform="translate(29.65,149.5) rotate(-90.03)" font-family="DejaVu Sans, Liberation Sans, sans-serif" font-weight="bold" text-rendering="geometricPrecision" font-size="17.35" text-anchor="middle">Execution Time (ms)</text>
<text x="410.55" y="308.00" transform="rotate(0.03 410.55 308.00)" font-family="DejaVu Sans, Liberation Sans, sans-serif" font-weight="bold" text-rendering="geometricPrecision" font-size="17.37" text-anchor="middle">Number of PIM Cores</text>
<rect x="40.4" y="313.95" width="764.8" height="51.85" rx="2.3" ry="2.3" fill="#fff" stroke="#d8d8d8" stroke-width="1"/>
<rect x="46.35" y="321.4" width="32.75" height="11.2" fill="#808080"/>
<rect x="46.35" y="321.4" width="32.75" height="11.2" fill="none" stroke="#000" stroke-width="1.0"/>
<rect x="46.35" y="344.9" width="32.75" height="11.2" fill="#fff"/>
<rect x="46.35" y="344.9" width="32.75" height="11.2" fill="none" stroke="#000" stroke-width="1.0"/>
<rect x="388.6" y="320.8" width="32.75" height="11.7" fill="#808080"/>
<rect x="388.6" y="320.8" width="32.75" height="11.7" fill="url(#hw)"/>
<rect x="388.6" y="320.8" width="32.75" height="11.7" fill="none" stroke="#000" stroke-width="1.25"/>
<rect x="388.6" y="344.9" width="32.75" height="11.5" fill="#fff"/>
<rect x="388.6" y="344.9" width="32.75" height="11.5" fill="url(#hw)"/>
<rect x="388.6" y="344.9" width="32.75" height="11.5" fill="none" stroke="#000" stroke-width="1.25"/>
<text x="91.70" y="332.80" transform="rotate(0.03 91.70 332.80)" font-family="DejaVu Sans, Liberation Sans, sans-serif" font-weight="bold" text-rendering="geometricPrecision" font-size="16.18" text-anchor="start">SimplePIM (CPU Time)</text>
<text x="91.70" y="356.40" transform="rotate(0.03 91.70 356.40)" font-family="DejaVu Sans, Liberation Sans, sans-serif" font-weight="bold" text-rendering="geometricPrecision" font-size="16.18" text-anchor="start">SimplePIM (PIM Kernel Time)</text>
<text x="434.20" y="332.80" transform="rotate(0.03 434.20 332.80)" font-family="DejaVu Sans, Liberation Sans, sans-serif" font-weight="bold" text-rendering="geometricPrecision" font-size="16.18" text-anchor="start">Hand-optimized Impl. (CPU Time)</text>
<text x="434.20" y="356.40" transform="rotate(0.03 434.20 356.40)" font-family="DejaVu Sans, Liberation Sans, sans-serif" font-weight="bold" text-rendering="geometricPrecision" font-size="16.18" text-anchor="start">Hand-optimized Impl. (PIM Kernel Time)</text>
</svg>
</body></html>
